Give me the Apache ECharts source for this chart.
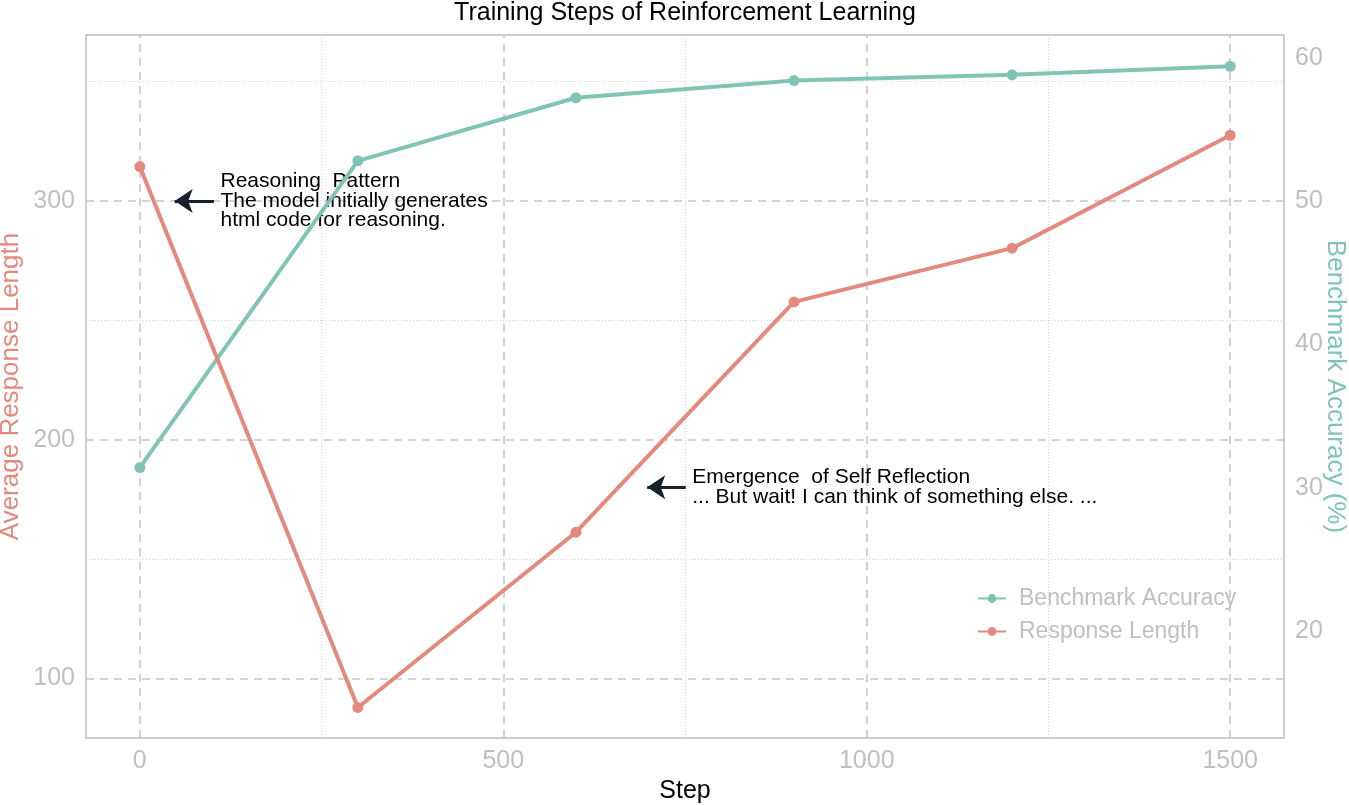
<!DOCTYPE html>
<html>
<head>
<meta charset="utf-8">
<script src="https://cdn.jsdelivr.net/npm/echarts@6/dist/echarts.min.js"></script>
<style>
html,body{margin:0;padding:0;background:#fff;}
#chart{width:1349px;height:805px;}
</style>
</head>
<body>
<div id="chart"></div>
<script>
// ---- data ----
const steps = [0, 300, 600, 900, 1200, 1500];
const responseLength = [314.4, 87.8, 161.2, 257.7, 280.2, 327.5];
const benchmarkAccuracy = [31.4, 52.8, 57.2, 58.4, 58.8, 59.4];
const xTickLabels = [0, 500, 1000, 1500];
const xMinorTicks = [250, 750, 1250];
const leftTickLabels = [100, 200, 300];
const leftMinorTicks = [150, 250, 350];
const rightTickLabels = [20, 30, 40, 50, 60];
const annotationTexts = [
  'Reasoning  Pattern\nThe model initially generates\nhtml code for reasoning.',
  'Emergence  of Self Reflection\n... But wait! I can think of something else. ...'
];
const annotationTips = [[48, 300], [698, 180]];
const annotationTails = [[102, 300], [751, 180]];
const annotationTextAt = [[111, 300], [760, 180]];

// ---- styles ----
const FONT = "'Liberation Sans', Arial, sans-serif";
const TEAL = '#80c4b6';
const SALMON = '#e3897e';
const GRAYTXT = '#bfbfbf';
const GRID = '#c6c6c6';

const chart = echarts.init(document.getElementById('chart'), null, {renderer: 'canvas'});

const gridLines = [];
xTickLabels.forEach(v => gridLines.push({xAxis: v, lineStyle: {type: [8, 6], width: 1.6, color: GRID}}));
xMinorTicks.forEach(v => gridLines.push({xAxis: v, lineStyle: {type: [1, 2], width: 0.9, color: '#cfcfcf'}}));
leftTickLabels.forEach(v => gridLines.push({yAxis: v, lineStyle: {type: [8, 6], width: 1.6, color: GRID}}));
leftMinorTicks.forEach(v => gridLines.push({yAxis: v, lineStyle: {type: [1, 2], width: 0.9, color: '#cfcfcf'}}));

const plain = v => String(Math.round(v));

const option = {
  animation: false,
  textStyle: {fontFamily: FONT},
  graphic: [{
    type: 'text', x: 685, y: 13,
    style: {text: 'Training Steps of Reinforcement Learning', fontSize: 25, fontFamily: FONT,
      fill: '#000', align: 'center', verticalAlign: 'middle'}
  }],
  grid: {left: 86, right: 65, top: 35, bottom: 67, show: true, borderColor: '#bdbdbd', borderWidth: 1.5,
    containLabel: false, outerBoundsMode: 'none'},
  legend: {
    data: ['Benchmark Accuracy', 'Response Length'],
    orient: 'vertical', left: 972, top: 582,
    itemWidth: 28, itemHeight: 11, itemGap: 10,
    textStyle: {color: GRAYTXT, fontSize: 23, fontFamily: FONT, lineHeight: 23, padding: [0, 0, 0, 8]}
  },
  xAxis: {
    type: 'value', min: -74, max: 1574,
    name: 'Step', nameLocation: 'middle', nameGap: 41, nameMoveOverlap: false,
    nameTextStyle: {color: '#000', fontSize: 25, fontFamily: FONT},
    axisLine: {show: false}, axisTick: {show: false}, splitLine: {show: false},
    axisLabel: {customValues: xTickLabels, formatter: plain, color: GRAYTXT, fontSize: 25, margin: 11, fontFamily: FONT}
  },
  yAxis: [{
    type: 'value', min: 75, max: 369.5, position: 'left',
    name: 'Average Response Length', nameLocation: 'middle', nameGap: 62, nameRotate: 90, nameMoveOverlap: false,
    nameTextStyle: {color: SALMON, fontSize: 26, fontFamily: FONT},
    axisLine: {show: false}, axisTick: {show: false}, splitLine: {show: false},
    axisLabel: {customValues: leftTickLabels, formatter: plain, color: GRAYTXT, fontSize: 25, margin: 11, fontFamily: FONT}
  }, {
    type: 'value', min: 12.53, max: 61.58, position: 'right',
    name: 'Benchmark Accuracy (%)', nameLocation: 'middle', nameGap: 38, nameRotate: -90, nameMoveOverlap: false,
    nameTextStyle: {color: TEAL, fontSize: 26, fontFamily: FONT},
    axisLine: {show: false}, axisTick: {show: false}, splitLine: {show: false},
    axisLabel: {customValues: rightTickLabels, formatter: plain, color: GRAYTXT, fontSize: 25, margin: 11, fontFamily: FONT}
  }],
  series: [{
    name: 'gridlines', type: 'line', yAxisIndex: 0, z: 1, silent: true,
    data: steps.map((s, i) => [s, responseLength[i]]),
    showSymbol: false, lineStyle: {opacity: 0}, itemStyle: {opacity: 0},
    markLine: {silent: true, symbol: ['none', 'none'], label: {show: false}, animation: false, data: gridLines}
  }, {
    name: 'Benchmark Accuracy', type: 'line', yAxisIndex: 1, z: 10,
    data: steps.map((s, i) => [s, benchmarkAccuracy[i]]),
    symbol: 'circle', symbolSize: 11, showSymbol: true,
    lineStyle: {color: TEAL, width: 4}, itemStyle: {color: TEAL}
  }, {
    name: 'Response Length', type: 'line', yAxisIndex: 0, z: 10,
    data: steps.map((s, i) => [s, responseLength[i]]),
    symbol: 'circle', symbolSize: 11, showSymbol: true,
    lineStyle: {color: SALMON, width: 4}, itemStyle: {color: SALMON},
    markLine: {
      silent: true, symbol: ['none', 'arrow'], symbolSize: 18, label: {show: false},
      lineStyle: {color: '#17202d', width: 3, type: 'solid'},
      itemStyle: {color: '#17202d'},
      data: annotationTips.map((tip, i) => [{coord: annotationTails[i]}, {coord: tip}])
    },
    markPoint: {
      silent: true, symbol: 'circle', symbolSize: 0,
      data: annotationTextAt.map((c, i) => ({
        coord: c,
        label: {show: true, position: 'right', distance: 0, formatter: annotationTexts[i],
          color: '#000', fontSize: 21, lineHeight: 19.5, fontFamily: FONT, align: 'left', verticalAlign: 'middle'}
      }))
    }
  }]
};
chart.setOption(option);
</script>
</body>
</html>
